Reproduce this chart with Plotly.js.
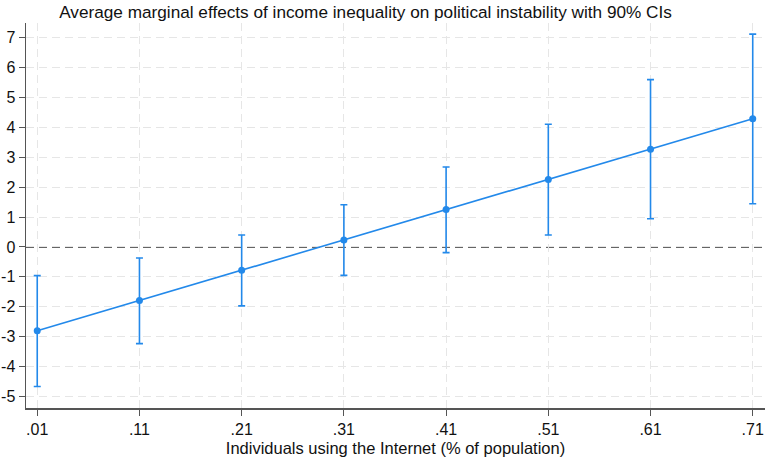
<!DOCTYPE html>
<html><head><meta charset="utf-8">
<script src="https://cdn.plot.ly/plotly-3.0.1.min.js"></script>
<style>body{margin:0;background:#fff}#chart{width:768px;height:462px}</style>
</head><body><div id="chart"></div>
<script>
const xVals = [0.01, 0.11, 0.21, 0.31, 0.41, 0.51, 0.61, 0.71];
const xLabels = [".01", ".11", ".21", ".31", ".41", ".51", ".61", ".71"];
const effect = [-2.80, -1.79, -0.78, 0.23, 1.25, 2.25, 3.26, 4.28];
const ciUpper = [-0.96, -0.37, 0.40, 1.41, 2.67, 4.10, 5.59, 7.11];
const ciLower = [-4.66, -3.23, -1.97, -0.95, -0.19, 0.40, 0.94, 1.44];
const yTicks = [-5, -4, -3, -2, -1, 0, 1, 2, 3, 4, 5, 6, 7];
const yLabels = ["-5", "-4", "-3", "-2", "-1", "0", "1", "2", "3", "4", "5", "6", "7"];

const col = "#2389ea";
const trace = {
  x: xVals, y: effect, type: "scatter", mode: "lines+markers",
  line: {color: col, width: 1.6},
  marker: {color: col, size: 7},
  error_y: {type: "data", symmetric: false,
    array: effect.map((v, i) => ciUpper[i] - v),
    arrayminus: effect.map((v, i) => v - ciLower[i]),
    color: col, thickness: 1.6, width: 3.5},
  hoverinfo: "skip"
};
const layout = {
  width: 768, height: 462,
  margin: {l: 26, r: 3, t: 23, b: 54},
  paper_bgcolor: "#fff", plot_bgcolor: "#fff",
  showlegend: false,
  font: {family: "Liberation Sans, Arial, sans-serif", color: "#111"},
  title: {text: "Average marginal effects of income inequality on political instability with 90% CIs",
    font: {size: 17.2, color: "#111"}, x: 0.476, xanchor: "center", y: 0.975, yanchor: "middle"},
  xaxis: {range: [-0.001, 0.722], tickvals: xVals, ticktext: xLabels,
    showgrid: true, gridcolor: "#e6e6e6", griddash: "8px,5px", gridwidth: 1,
    zeroline: false, showline: true, linecolor: "#555", linewidth: 1.5,
    ticks: "outside", ticklen: 6, tickcolor: "#555", tickfont: {size: 16, color: "#111"},
    title: {text: "Individuals using the Internet (% of population)", font: {size: 16.5, color: "#111"}, standoff: 5}},
  yaxis: {range: [-5.38, 7.48], tickvals: yTicks, ticktext: yLabels,
    showgrid: true, gridcolor: "#e6e6e6", griddash: "8px,5px", gridwidth: 1,
    zeroline: false, showline: true, linecolor: "#555", linewidth: 1.5,
    ticks: "outside", ticklen: 6, tickcolor: "#555", tickfont: {size: 16, color: "#111"}},
  shapes: [{type: "line", xref: "paper", x0: 0, x1: 1, yref: "y", y0: 0, y1: 0,
    line: {color: "#333", width: 1.8, dash: "8px,5px"}, layer: "below"}]
};
Plotly.newPlot("chart", [trace], layout, {displayModeBar: false, staticPlot: true});
</script></body></html>
